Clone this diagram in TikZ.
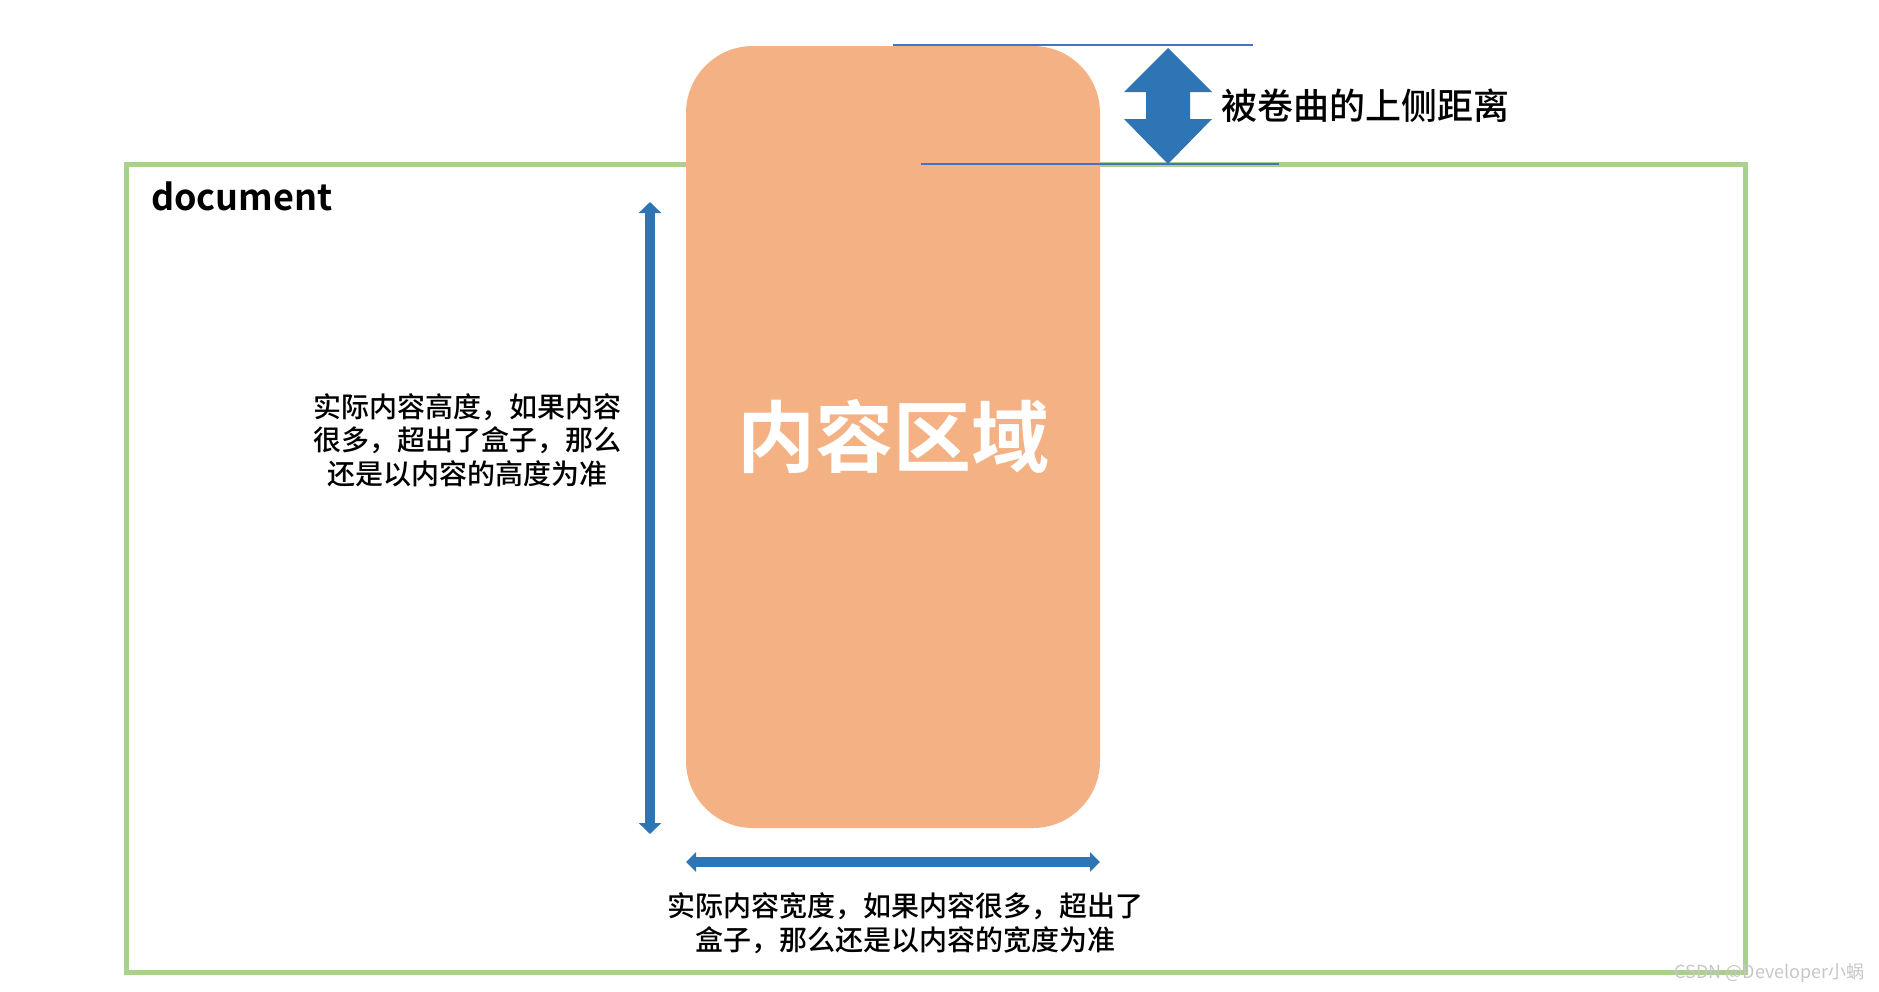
\documentclass[tikz,border=0pt]{standalone}
\usepackage{fontspec}
\setmainfont{Noto Sans CJK SC}[BoldFont={Noto Sans CJK SC Medium}]
\newfontfamily\heavyfont{Noto Sans CJK SC Bold}
\usetikzlibrary{arrows.meta}
\definecolor{docgreen}{HTML}{A9D18E}
\definecolor{boxorange}{HTML}{F4B183}
\definecolor{arrowblue}{HTML}{2E75B6}
\definecolor{lineblue}{HTML}{4472C4}
\begin{document}
\begin{tikzpicture}[x=1pt,y=-1pt,
    label/.style={inner sep=0pt,font=\bfseries\fontsize{28}{33.6}\selectfont,align=center},
    measure/.style={draw=arrowblue,line width=9.5pt,{Triangle[width=22pt,length=11pt]}-{Triangle[width=22pt,length=11pt]}},
    guide/.style={draw=lineblue,line width=1.3pt}]
        \useasboundingbox (0,0) rectangle (1879,991);
        \draw[docgreen,line width=5pt] (126,164) rectangle (1745,972);
        \node (doc) [inner sep=0pt,anchor=base west,font=\heavyfont\fontsize{36}{40}\selectfont] at (151,210) {document};
        \node (box) [fill=boxorange,rounded corners=67pt,minimum width=414pt,minimum height=782pt,
          text=white,font=\heavyfont\fontsize{78}{90}\selectfont] at (893,437) {内容区域};
        % scrolled top distance
        \coordinate (topA) at (893,45);
        \coordinate (topB) at (1253,45);
        \coordinate (botA) at (921,164);
        \coordinate (botB) at (1279,164);
        \draw[guide] (topA) -- (topB);
        \draw[guide] (botA) -- (botB);
        \fill[arrowblue] (1168,48) -- (1212,92) -- (1190,92) -- (1190,119) -- (1212,119) -- (1168,164)
          -- (1124,119) -- (1146,119) -- (1146,92) -- (1124,92) -- cycle;
        \node (scroll) [inner sep=0pt,anchor=west,font=\bfseries\fontsize{36}{40}\selectfont] at (1221,106) {被卷曲的上侧距离};
        % content height and width
        \coordinate (hTop) at (650,202);
        \coordinate (hBot) at (650,834);
        \coordinate (wLeft) at (686,862);
        \coordinate (wRight) at (1100,862);
        \draw[measure] (hTop) -- (hBot);
        \draw[measure,{Triangle[width=19pt,length=10pt]}-{Triangle[width=19pt,length=10pt]}] (wLeft) -- (wRight);
        \node (hText) [label] at (467,440) {实际内容高度，如果内容\\很多，超出了盒子，那么\\还是以内容的高度为准};
        \node (wText) [label] at (905,923) {实际内容宽度，如果内容很多，超出了\\盒子，那么还是以内容的宽度为准};
        \node (mark) [inner sep=0pt,anchor=base east,text=gray!45,font=\fontsize{18}{20}\selectfont] at (1865,978) {CSDN @Developer小蜗};
      \end{tikzpicture}
\end{document}
